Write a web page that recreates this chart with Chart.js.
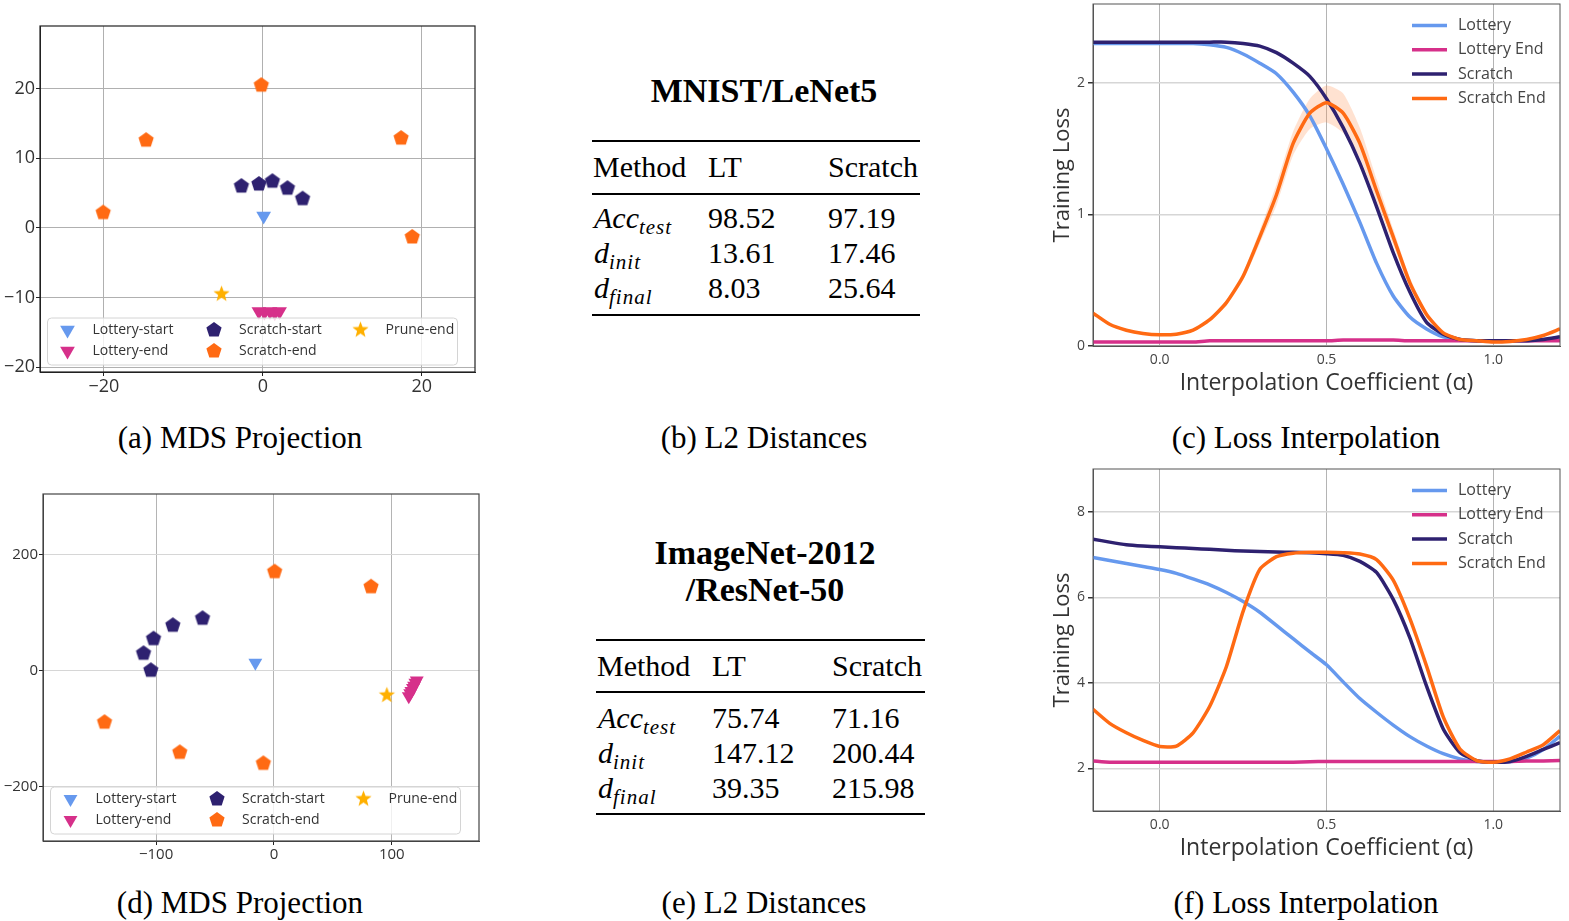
<!DOCTYPE html>
<html>
<head>
<meta charset="utf-8">
<script src="https://cdn.jsdelivr.net/npm/chart.js@4.4.1/dist/chart.umd.min.js"></script>
<style>
  body { margin: 0; width: 1569px; height: 921px; background: #fff; overflow: hidden; position: relative; }
  .panel { position: absolute; }
  .serif { position: absolute; font-family: "Liberation Serif", "Times New Roman", serif; color: #000; white-space: nowrap; }
  .cap { font-size: 31px; line-height: 34px; text-align: center; width: 400px; }
  .ttl { font-size: 34px; font-weight: bold; line-height: 37px; text-align: center; width: 400px; }
  .cell { font-size: 30px; line-height: 36px; }
  .cell sub { font-size: 21px; font-style: italic; vertical-align: -6px; line-height: 0; letter-spacing: 1px; }
  .rule { position: absolute; background: #000; }
</style>
</head>
<body>

<!-- (a) / (d) MDS projections -->
<div class="panel" style="left:0; top:0; width:480px; height:400px"><canvas id="mdsMnist"></canvas></div>
<div class="panel" style="left:0; top:470px; width:484px; height:400px"><canvas id="mdsImagenet"></canvas></div>

<!-- (c) / (f) loss interpolation -->
<div class="panel" style="left:1020px; top:0; width:549px; height:400px"><canvas id="interpMnist"></canvas></div>
<div class="panel" style="left:1020px; top:460px; width:549px; height:405px"><canvas id="interpImagenet"></canvas></div>

<!-- (b) table -->
<div class="serif ttl" style="left:564px; top:72px">MNIST/LeNet5</div>
<div class="rule" style="left:592px; top:139.75px; width:328px; height:2.5px"></div>
<div class="serif cell" style="left:593px; top:149px">Method</div>
<div class="serif cell" style="left:708px; top:149px">LT</div>
<div class="serif cell" style="left:828px; top:149px">Scratch</div>
<div class="rule" style="left:592px; top:193.25px; width:328px; height:1.5px"></div>
<div class="serif cell" style="left:594px; top:200px"><i>Acc</i><sub>test</sub></div>
<div class="serif cell" style="left:708px; top:200px">98.52</div>
<div class="serif cell" style="left:828px; top:200px">97.19</div>
<div class="serif cell" style="left:594px; top:235px"><i>d</i><sub>init</sub></div>
<div class="serif cell" style="left:708px; top:235px">13.61</div>
<div class="serif cell" style="left:828px; top:235px">17.46</div>
<div class="serif cell" style="left:594px; top:270px"><i>d</i><sub>final</sub></div>
<div class="serif cell" style="left:708px; top:270px">8.03</div>
<div class="serif cell" style="left:828px; top:270px">25.64</div>
<div class="rule" style="left:592px; top:313.75px; width:328px; height:2.5px"></div>

<!-- (e) table -->
<div class="serif ttl" style="left:565px; top:533.5px">ImageNet-2012<br>/ResNet-50</div>
<div class="rule" style="left:596px; top:638.75px; width:329px; height:2.5px"></div>
<div class="serif cell" style="left:597px; top:648px">Method</div>
<div class="serif cell" style="left:712px; top:648px">LT</div>
<div class="serif cell" style="left:832px; top:648px">Scratch</div>
<div class="rule" style="left:596px; top:691.25px; width:329px; height:1.5px"></div>
<div class="serif cell" style="left:598px; top:700px"><i>Acc</i><sub>test</sub></div>
<div class="serif cell" style="left:712px; top:700px">75.74</div>
<div class="serif cell" style="left:832px; top:700px">71.16</div>
<div class="serif cell" style="left:598px; top:735px"><i>d</i><sub>init</sub></div>
<div class="serif cell" style="left:712px; top:735px">147.12</div>
<div class="serif cell" style="left:832px; top:735px">200.44</div>
<div class="serif cell" style="left:598px; top:770px"><i>d</i><sub>final</sub></div>
<div class="serif cell" style="left:712px; top:770px">39.35</div>
<div class="serif cell" style="left:832px; top:770px">215.98</div>
<div class="rule" style="left:596px; top:812.75px; width:329px; height:2.5px"></div>

<!-- captions -->
<div class="serif cap" style="left:40px; top:421px">(a) MDS Projection</div>
<div class="serif cap" style="left:564px; top:421px">(b) L2 Distances</div>
<div class="serif cap" style="left:1106px; top:421px">(c) Loss Interpolation</div>
<div class="serif cap" style="left:40px; top:886px">(d) MDS Projection</div>
<div class="serif cap" style="left:564px; top:886px">(e) L2 Distances</div>
<div class="serif cap" style="left:1106px; top:886px">(f) Loss Interpolation</div>

<script>
// ---- (a) MNIST MDS projection ----
const mnistLotteryStartX = [0.1];
const mnistLotteryStartY = [1.7];
const mnistLotteryEndX = [-0.5, 0.2, 0.9, 1.5, 2.1];
const mnistLotteryEndY = [-12.0, -12.1, -12.0, -12.2, -12.0];
const mnistScratchStartX = [-2.7, -0.5, 1.2, 3.1, 5.0];
const mnistScratchStartY = [6.0, 6.3, 6.7, 5.7, 4.2];
const mnistScratchEndX = [-0.2, -14.7, 17.4, -20.1, 18.8];
const mnistScratchEndY = [20.5, 12.6, 12.9, 2.2, -1.3];
const mnistPruneEndX = [-5.2];
const mnistPruneEndY = [-9.5];
const mnistMdsXTicks = [-20, 0, 20];
const mnistMdsYTicks = [-20, -10, 0, 10, 20];

// ---- (d) ImageNet MDS projection ----
const inLotteryStartX = [-15.8];
const inLotteryStartY = [13.6];
const inLotteryEndX = [121.2, 120.0, 118.9, 117.9, 116.6, 115.6, 114.4];
const inLotteryEndY = [-17, -21, -26, -30, -35, -39, -44];
const inScratchStartX = [-60.6, -85.8, -102.2, -110.7, -104.5];
const inScratchStartY = [90.5, 78.4, 55.3, 30.0, 0.7];
const inScratchEndX = [0.6, 82.4, -143.8, -79.9, -9.0];
const inScratchEndY = [171, 145, -89, -141, -160];
const inPruneEndX = [95.8];
const inPruneEndY = [-42.5];
const inMdsXTicks = [-100, 0, 100];
const inMdsYTicks = [-200, 0, 200];

// ---- (c) / (f) loss interpolation ----
const alphaSteps = [-0.2, -0.15, -0.1, -0.05, 0, 0.05, 0.1, 0.15, 0.2, 0.25, 0.3, 0.35, 0.4, 0.45, 0.5,
                    0.55, 0.6, 0.65, 0.7, 0.75, 0.8, 0.85, 0.9, 0.95, 1.0, 1.05, 1.1, 1.15, 1.2];
const alphaTicks = [0, 0.5, 1.0];

const mnistLottery = [2.30, 2.30, 2.30, 2.30, 2.30, 2.30, 2.30, 2.29, 2.27, 2.22, 2.15, 2.07, 1.93, 1.75, 1.50,
                      1.23, 0.94, 0.63, 0.38, 0.22, 0.13, 0.07, 0.05, 0.04, 0.04, 0.04, 0.04, 0.05, 0.06];
const mnistLotteryEnd = [0.03, 0.03, 0.03, 0.03, 0.03, 0.03, 0.03, 0.04, 0.04, 0.04, 0.04, 0.04, 0.04, 0.04, 0.04,
                         0.045, 0.045, 0.045, 0.045, 0.04, 0.04, 0.04, 0.04, 0.04, 0.04, 0.04, 0.04, 0.04, 0.04];
const mnistScratch = [2.31, 2.31, 2.31, 2.31, 2.31, 2.31, 2.31, 2.31, 2.31, 2.30, 2.28, 2.23, 2.15, 2.05, 1.88,
                      1.66, 1.39, 1.06, 0.71, 0.41, 0.18, 0.09, 0.05, 0.04, 0.04, 0.04, 0.04, 0.05, 0.07];
const mnistScratchEnd = [0.25, 0.165, 0.12, 0.095, 0.085, 0.09, 0.12, 0.20, 0.33, 0.53, 0.83, 1.15, 1.54, 1.77, 1.85,
                         1.77, 1.54, 1.18, 0.83, 0.48, 0.24, 0.10, 0.05, 0.04, 0.03, 0.035, 0.05, 0.08, 0.13];
const mnistScratchEndUpper = [0.26, 0.175, 0.13, 0.105, 0.095, 0.10, 0.13, 0.21, 0.35, 0.56, 0.88, 1.23, 1.63, 1.88, 1.98,
                              1.92, 1.66, 1.27, 0.89, 0.52, 0.26, 0.11, 0.06, 0.05, 0.04, 0.045, 0.06, 0.09, 0.14];
const mnistScratchEndLower = [0.24, 0.155, 0.11, 0.085, 0.075, 0.08, 0.11, 0.19, 0.31, 0.50, 0.78, 1.07, 1.45, 1.65, 1.70,
                              1.62, 1.43, 1.10, 0.77, 0.44, 0.22, 0.09, 0.04, 0.03, 0.02, 0.025, 0.04, 0.07, 0.12];
const mnistLossTicks = [0, 1, 2];

const inLottery = [6.93, 6.86, 6.79, 6.72, 6.65, 6.56, 6.43, 6.29, 6.11, 5.90, 5.65, 5.34, 5.03, 4.72, 4.42,
                   4.02, 3.63, 3.31, 3.01, 2.74, 2.52, 2.34, 2.22, 2.16, 2.14, 2.15, 2.24, 2.44, 2.75];
const inLotteryEnd = [2.17, 2.14, 2.14, 2.14, 2.14, 2.14, 2.14, 2.14, 2.14, 2.14, 2.14, 2.14, 2.14, 2.15, 2.16,
                      2.16, 2.16, 2.16, 2.16, 2.16, 2.16, 2.16, 2.16, 2.16, 2.16, 2.16, 2.17, 2.17, 2.18];
const inScratch = [7.36, 7.29, 7.23, 7.20, 7.18, 7.16, 7.14, 7.12, 7.10, 7.08, 7.07, 7.06, 7.05, 7.04, 7.02,
                   6.98, 6.84, 6.58, 5.95, 5.05, 3.92, 2.92, 2.37, 2.18, 2.14, 2.16, 2.28, 2.44, 2.60];
const inScratchEnd = [3.38, 3.05, 2.83, 2.65, 2.51, 2.52, 2.83, 3.45, 4.38, 5.67, 6.65, 6.95, 7.03, 7.05, 7.05,
                      7.04, 7.01, 6.88, 6.40, 5.50, 4.39, 3.20, 2.45, 2.18, 2.14, 2.22, 2.38, 2.55, 2.88];
const inLossTicks = [2, 4, 6, 8];

// colours
const cLottery = '#6699EE';
const cLotteryEnd = '#D6308A';
const cScratch = '#2E2170';
const cScratchEnd = '#FF6A13';
const cPrune = '#FFB000';

const pts = (xs, ys) => xs.map((x, i) => ({ x: x, y: ys[i] }));
const minus = v => String(v).replace('-', '\u2212');

// fixed axis sizes, no label padding added round the plot area
const fixH = h => s => { s.height = h; s.paddingLeft = 0; s.paddingRight = 0; };
const fixW = w => s => { s.width = w; s.paddingTop = 0; s.paddingBottom = 0; };

// filled pentagon / star markers (matplotlib 'p' and '*')
function makeMarker(shape, color, r) {
    const c = document.createElement('canvas');
    const s = Math.ceil(r * 2 + 2);
    c.width = s; c.height = s;
    const g = c.getContext('2d');
    g.fillStyle = color;
    g.beginPath();
    const n = shape === 'star' ? 10 : 5;
    for (let k = 0; k < n; k++) {
        const ang = -Math.PI / 2 + k * 2 * Math.PI / n;
        const rad = (shape === 'star' && k % 2) ? r * 0.42 : r;
        g.lineTo(s / 2 + rad * Math.cos(ang), s / 2 + rad * Math.sin(ang));
    }
    g.closePath();
    g.fill();
    return c;
}

function drawGlyph(ctx, d, x, y) {
    const st = d.pointStyle;
    if (st instanceof HTMLCanvasElement) {
        ctx.drawImage(st, x - st.width / 2, y - st.height / 2);
        return;
    }
    const r = d.pointRadius;
    ctx.fillStyle = d.pointBackgroundColor;
    ctx.beginPath();
    ctx.moveTo(x - r * 0.866, y - r / 2);
    ctx.lineTo(x + r * 0.866, y - r / 2);
    ctx.lineTo(x, y + r);
    ctx.closePath();
    ctx.fill();
}

// frame round the plot area + legend inside it
const panelDeco = {
    id: 'panelDeco',
    afterDatasetsDraw(chart, args, o) {
        const { ctx, chartArea: a } = chart;
        ctx.save();
        ctx.strokeStyle = o.frameColor;
        ctx.lineWidth = o.frameWidth;
        ctx.strokeRect(a.left, a.top, a.right - a.left, a.bottom - a.top);
        const sets = chart.data.datasets.filter(d => d.label);
        ctx.textBaseline = 'middle';
        if (o.kind === 'markers') {
            const bx = a.left + 7.5, bw = 410, bh = 47, by = a.bottom - 7 - bh;
            ctx.beginPath();
            ctx.roundRect(bx, by, bw, bh, 4);
            ctx.fillStyle = 'rgba(255,255,255,0.8)';
            ctx.fill();
            ctx.strokeStyle = '#d4d4d4';
            ctx.lineWidth = 1;
            ctx.stroke();
            ctx.font = '14px "Open Sans"';
            sets.forEach((d, i) => {
                const col = Math.floor(i / 2), row = i % 2;
                const y = by + 12 + row * 21;
                drawGlyph(ctx, d, bx + 20 + col * 146.5, y);
                ctx.fillStyle = '#333';
                ctx.fillText(d.label, bx + 45 + col * 146.5, y);
            });
        } else {
            ctx.font = '16px "Open Sans"';
            sets.forEach((d, i) => {
                const y = a.top + 21.5 + i * 24.3;
                ctx.strokeStyle = d.borderColor;
                ctx.lineWidth = 3.5;
                ctx.beginPath();
                ctx.moveTo(a.right - 148, y);
                ctx.lineTo(a.right - 113, y);
                ctx.stroke();
                ctx.fillStyle = '#444';
                ctx.fillText(d.label, a.right - 102, y);
            });
        }
        ctx.restore();
    }
};

function markerSet(label, xs, ys, style, color, r, rot) {
    return {
        label: label, data: pts(xs, ys),
        pointStyle: style, pointRadius: r, pointHoverRadius: r, pointRotation: rot || 0,
        pointBackgroundColor: color, backgroundColor: color, pointBorderWidth: 0, borderWidth: 0
    };
}

function scatterChart(id, sets, ax) {
    return new Chart(document.getElementById(id), {
        type: 'scatter',
        data: { datasets: sets },
        options: {
            animation: false, responsive: true, maintainAspectRatio: false,
            layout: { padding: ax.pad, autoPadding: false },
            plugins: {
                legend: { display: false }, tooltip: { enabled: false },
                panelDeco: { kind: 'markers', frameColor: ax.frame, frameWidth: 1.2 }
            },
            scales: {
                x: {
                    type: 'linear', min: ax.xMin, max: ax.xMax,
                    afterBuildTicks: s => { s.ticks = ax.xTicks.map(v => ({ value: v })); },
                    afterFit: fixH(ax.xh),
                    grid: { color: ax.vGrid, tickColor: '#222', tickLength: 4 },
                    border: { color: ax.frame },
                    ticks: { font: { family: 'Open Sans', size: ax.font }, color: '#333', padding: ax.xPad, maxRotation: 0, callback: minus }
                },
                y: {
                    type: 'linear', min: ax.yMin, max: ax.yMax,
                    afterBuildTicks: s => { s.ticks = ax.yTicks.map(v => ({ value: v })); },
                    afterFit: fixW(ax.yw),
                    grid: { color: ax.hGrid, tickColor: '#222', tickLength: 4 },
                    border: { color: ax.frame },
                    ticks: { font: { family: 'Open Sans', size: ax.font }, color: '#333', padding: 1, callback: minus }
                }
            }
        },
        plugins: [panelDeco]
    });
}

function lineSet(label, ys, color, order) {
    return {
        label: label, data: pts(alphaSteps, ys), borderColor: color, backgroundColor: color,
        borderWidth: 3.5, pointRadius: 0, tension: 0.2, fill: false, order: order
    };
}

function interpChart(id, sets, yMin, yMax, yTicks, padTop) {
    return new Chart(document.getElementById(id), {
        type: 'line',
        data: { datasets: sets },
        options: {
            animation: false, responsive: true, maintainAspectRatio: false,
            layout: { padding: { top: padTop, right: 9 }, autoPadding: false },
            plugins: {
                legend: { display: false }, tooltip: { enabled: false },
                panelDeco: { kind: 'lines', frameColor: '#555', frameWidth: 1 }
            },
            scales: {
                x: {
                    type: 'linear', min: -0.2, max: 1.2,
                    afterBuildTicks: s => { s.ticks = alphaTicks.map(v => ({ value: v })); },
                    afterFit: fixH(54),
                    grid: { color: '#b4b4b4', lineWidth: 1, drawTicks: false },
                    border: { color: '#555' },
                    ticks: { font: { family: 'Open Sans', size: 14 }, color: '#444', padding: 6, maxRotation: 0,
                             callback: v => v.toFixed(1) },
                    title: { display: true, text: 'Interpolation Coefficient (\u03B1)', color: '#333',
                             font: { family: 'Open Sans', size: 23 }, padding: { top: 0, bottom: 3 } }
                },
                y: {
                    type: 'linear', min: yMin, max: yMax,
                    afterBuildTicks: s => { s.ticks = yTicks.map(v => ({ value: v })); },
                    afterFit: fixW(73),
                    grid: { color: '#d6d6d6', lineWidth: 1.5, tickColor: '#333', tickLength: 5 },
                    border: { color: '#555' },
                    ticks: { font: { family: 'Open Sans', size: 14 }, color: '#444', padding: 3 },
                    title: { display: true, text: 'Training Loss', color: '#333',
                             font: { family: 'Open Sans', size: 22 }, padding: { top: 30, bottom: 0 } }
                }
            }
        },
        plugins: [panelDeco]
    });
}

function build() {
    const pentNavy = makeMarker('pent', cScratch, 8);
    const pentOrange = makeMarker('pent', cScratchEnd, 8);
    const starGold = makeMarker('star', cPrune, 8.5);

    scatterChart('mdsMnist', [
        markerSet('Lottery-start', mnistLotteryStartX, mnistLotteryStartY, 'triangle', cLottery, 8.5, 180),
        markerSet('Lottery-end', mnistLotteryEndX, mnistLotteryEndY, 'triangle', cLotteryEnd, 8.5, 180),
        markerSet('Scratch-start', mnistScratchStartX, mnistScratchStartY, pentNavy, cScratch, 8),
        markerSet('Scratch-end', mnistScratchEndX, mnistScratchEndY, pentOrange, cScratchEnd, 8),
        markerSet('Prune-end', mnistPruneEndX, mnistPruneEndY, starGold, cPrune, 8)
    ], {
        pad: { top: 26, right: 5 }, xh: 28, yw: 40, font: 18, xPad: 0,
        xMin: -28.05, xMax: 26.7, yMin: -20.7, yMax: 29,
        xTicks: mnistMdsXTicks, yTicks: mnistMdsYTicks,
        frame: '#222', vGrid: '#b0b0b0', hGrid: '#b0b0b0'
    });

    scatterChart('mdsImagenet', [
        markerSet('Lottery-start', inLotteryStartX, inLotteryStartY, 'triangle', cLottery, 8, 180),
        markerSet('Lottery-end', inLotteryEndX, inLotteryEndY, 'triangle', cLotteryEnd, 8, 180),
        markerSet('Scratch-start', inScratchStartX, inScratchStartY, pentNavy, cScratch, 8),
        markerSet('Scratch-end', inScratchEndX, inScratchEndY, pentOrange, cScratchEnd, 8),
        markerSet('Prune-end', inPruneEndX, inPruneEndY, starGold, cPrune, 8)
    ], {
        pad: { top: 24, right: 5 }, xh: 29, yw: 43, font: 15, xPad: 1,
        xMin: -196, xMax: 174, yMin: -294, yMax: 305,
        xTicks: inMdsXTicks, yTicks: inMdsYTicks,
        frame: '#444', vGrid: '#b4b4b4', hGrid: '#d6d6d6'
    });

    interpChart('interpMnist', [
        lineSet('Lottery', mnistLottery, cLottery, 4),
        lineSet('Lottery End', mnistLotteryEnd, cLotteryEnd, 3),
        lineSet('Scratch', mnistScratch, cScratch, 2),
        lineSet('Scratch End', mnistScratchEnd, cScratchEnd, 1),
        { data: pts(alphaSteps, mnistScratchEndUpper), borderWidth: 0, pointRadius: 0, tension: 0.2, fill: false, order: 10 },
        { data: pts(alphaSteps, mnistScratchEndLower), borderWidth: 0, pointRadius: 0, tension: 0.2, fill: '-1',
          backgroundColor: 'rgba(255,140,70,0.25)', order: 10 }
    ], 0, 2.6, mnistLossTicks, 4);

    interpChart('interpImagenet', [
        lineSet('Lottery', inLottery, cLottery, 4),
        lineSet('Lottery End', inLotteryEnd, cLotteryEnd, 3),
        lineSet('Scratch', inScratch, cScratch, 2),
        lineSet('Scratch End', inScratchEnd, cScratchEnd, 1)
    ], 1, 9, inLossTicks, 9);
}

if (document.fonts && document.fonts.ready) {
    document.fonts.ready.then(build);
} else {
    build();
}
</script>
</body>
</html>
